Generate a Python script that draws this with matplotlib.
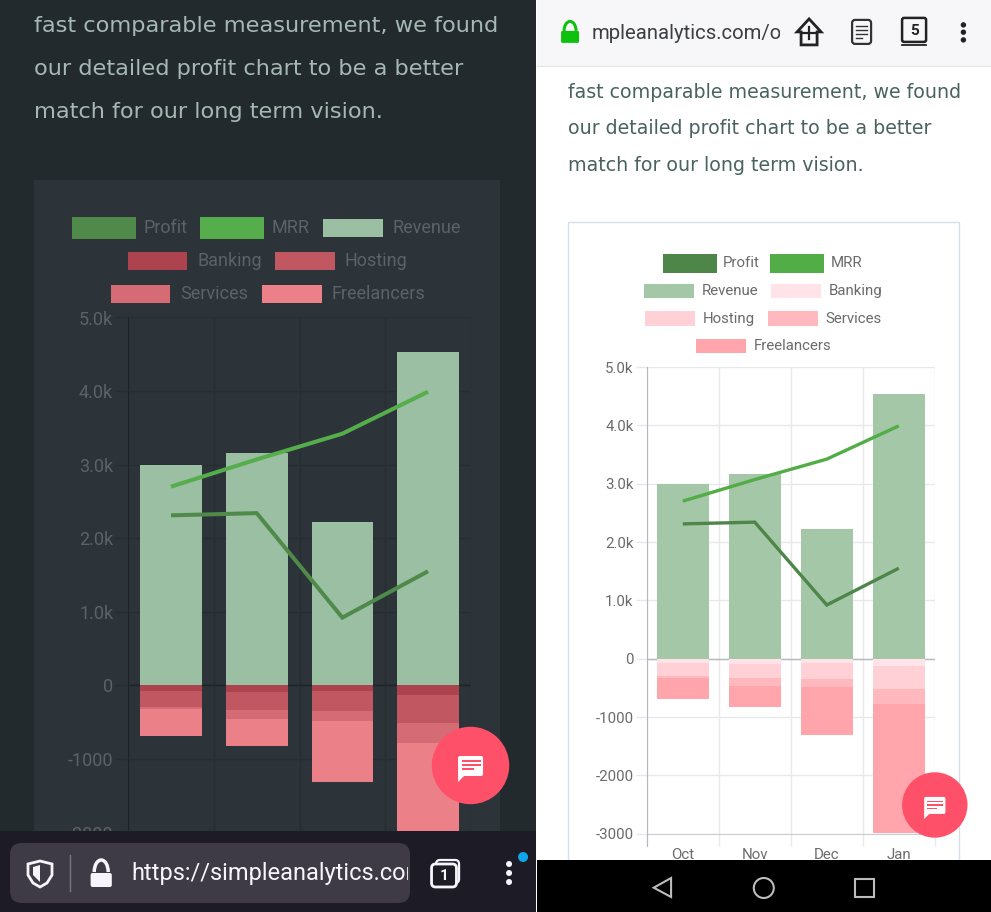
import numpy as np
import matplotlib
matplotlib.use('Agg')
import matplotlib.pyplot as plt
from matplotlib.patches import Rectangle, Circle, FancyBboxPatch, Polygon, Arc

months = ['Oct', 'Nov', 'Dec', 'Jan']
revenue = [3000, 3160, 2220, 4530]
mrr = [2700, 3070, 3420, 3990]
profit = [2310, 2340, 920, 1550]
banking = [80, 95, 77, 131]
hosting = [210, 235, 276, 381]
services = [35, 132, 127, 267]
freelancers = [365, 362, 829, 2201]

paragraph = ['fast comparable measurement, we found',
             'our detailed profit chart to be a better',
             'match for our long term vision.']
left_ticks = [5000, 4000, 3000, 2000, 1000, 0, -1000, -2000]
left_tick_labels = ['5.0k', '4.0k', '3.0k', '2.0k', '1.0k', '0', '-1000', '-2000']
right_ticks = [5000, 4000, 3000, 2000, 1000, 0, -1000, -2000, -3000]
right_tick_labels = ['5.0k', '4.0k', '3.0k', '2.0k', '1.0k', '0', '-1000', '-2000', '-3000']

dark_colors = {'Profit': '#4f8a4a', 'MRR': '#55ad4b', 'Revenue': '#9bbfa2', 'Banking': '#ad434e',
               'Hosting': '#c05761', 'Services': '#d56c75', 'Freelancers': '#ec8089'}
light_colors = {'Profit': '#4e8548', 'MRR': '#52ad46', 'Revenue': '#a3c7a7', 'Banking': '#ffe3e8',
                'Hosting': '#ffd0d6', 'Services': '#ffb9be', 'Freelancers': '#ffa5ab'}

plt.rcParams['font.family'] = ['Roboto', 'DejaVu Sans']

W, H = 991, 912
fig = plt.figure(figsize=((W + 0.1) / 100, (H + 0.1) / 100), dpi=100)


def pixel_axes(z):
    ax = fig.add_axes([0, 0, 1, 1], zorder=z)
    ax.set_xlim(0, W)
    ax.set_ylim(H, 0)
    ax.axis('off')
    ax.patch.set_alpha(0)
    return ax


bg = pixel_axes(0)
top = pixel_axes(5)


def box(ax, x0, y0, x1, y1, color, **kw):
    ax.add_patch(Rectangle((x0, y0), x1 - x0, y1 - y0, facecolor=color, edgecolor='none', **kw))


def rbox(ax, x0, y0, x1, y1, r, face, edge='none', lw=0, **kw):
    ax.add_patch(FancyBboxPatch((x0, y0), x1 - x0, y1 - y0, boxstyle=f'round,pad=0,rounding_size={r}',
                                facecolor=face, edgecolor=edge, linewidth=lw, **kw))


def draw_chart(x0, x1, y5k, y0val, y_bottom, ticks, tick_labels, colors, fs, tick_px, line_w, grid_c, axis_c, text_c, labels):
    per_k = (y0val - y5k) / 5
    ymin = -(y_bottom - y0val) / per_k * 1000
    ax = fig.add_axes([x0 / W, 1 - y_bottom / H, (x1 - x0) / W, (y_bottom - y5k) / H], zorder=2)
    ax.patch.set_alpha(0)
    ax.set_xlim(0, 4)
    ax.set_ylim(ymin, 5000)
    x = np.arange(4) + 0.5
    ax.bar(x, revenue, 0.72, color=colors['Revenue'], zorder=2)
    bottom = np.zeros(4)
    for name, vals in [('Banking', banking), ('Hosting', hosting), ('Services', services), ('Freelancers', freelancers)]:
        ax.bar(x, -np.array(vals), 0.72, bottom=bottom, color=colors[name], zorder=2)
        bottom -= np.array(vals)
    ax.plot(x, mrr, color=colors['MRR'], lw=line_w, zorder=3, solid_capstyle='butt', solid_joinstyle='miter')
    ax.plot(x, profit, color=colors['Profit'], lw=line_w, zorder=3, solid_capstyle='butt', solid_joinstyle='miter')
    ax.set_yticks(ticks)
    ax.set_yticklabels(tick_labels, fontsize=fs, color=text_c)
    ax.set_xticks(np.arange(5))
    ax.set_xticklabels([])
    # the dark screenshot is cut off above the month labels
    if labels:
        ax.set_xticks(x, minor=True)
        ax.set_xticklabels(labels, minor=True, fontsize=fs, color=text_c)
    ax.tick_params(axis='y', length=tick_px * 0.72, width=1, color=grid_c, pad=1.5)
    ax.tick_params(axis='x', which='major', length=12 * 0.72, width=1, color=grid_c)
    ax.tick_params(axis='x', which='minor', length=0, pad=10)
    ax.grid(True, which='major', color=grid_c, lw=1, zorder=1)
    ax.set_axisbelow(True)
    ax.axhline(0, color=axis_c, lw=1, zorder=1)
    for s in ['top', 'right']:
        ax.spines[s].set_visible(False)
    ax.spines['bottom'].set_color(axis_c)
    ax.spines['bottom'].set_alpha(0.7)
    ax.spines['left'].set_color(axis_c)
    ax.spines['left'].set_bounds(ymin - 12 / per_k * 1000, 5000)
    ax.spines['left'].set_clip_on(False)
    return ax


def legend(rows, colors, text_c, fs):
    # name, swatch left, swatch right, label x, top, bottom
    for name, sx0, sx1, tx, sy0, sy1 in rows:
        box(bg, sx0, sy0, sx1, sy1, colors[name])
        bg.text(tx, (sy0 + sy1) / 2, name, fontsize=fs, color=text_c, va='center', ha='left')


def chat_button(cx, cy, r, k):
    top.add_patch(Circle((cx, cy), r, facecolor='#ff5069', edgecolor='none'))
    ix, iy = cx - 12.5 * k, cy - 9.5 * k
    rbox(top, ix, iy, ix + 25 * k, iy + 20 * k, 2 * k, 'white')
    top.add_patch(Polygon([(ix, iy + 18 * k), (ix, iy + 26 * k), (ix + 7 * k, iy + 19 * k)], facecolor='white', edgecolor='none'))
    for off, ln in [(4.5, 19), (8.5, 19), (12.5, 12)]:
        box(top, ix + 3.5 * k, iy + off * k, ix + (3.5 + ln) * k, iy + (off + 2) * k, '#ff5069')


# left (dark) page
box(bg, 0, 0, 536, H, '#222a2d')
box(bg, 34, 180, 500, 835, '#2c343a')
for text, y in zip(paragraph, [25.5, 68.5, 111.5]):
    bg.text(34, y, text, family='DejaVu Sans', fontsize=16.2, color='#a6b8b3', va='center', ha='left')
legend([('Profit', 72, 136, 143, 217, 239), ('MRR', 200, 264, 271, 217, 239), ('Revenue', 323, 383, 392.5, 219, 237),
        ('Banking', 127.5, 187, 197, 252, 270), ('Hosting', 275, 335, 344, 252, 270),
        ('Services', 111, 170, 180, 285, 303), ('Freelancers', 262, 322, 331, 285, 303)],
       dark_colors, '#5c6265', 13)
draw_chart(128.2, 470.8, 317.5, 685.3, 848, left_ticks, left_tick_labels, dark_colors, 13, 13, 2.9,
           '#262e32', '#1c2427', '#5c6265', None)
chat_button(470.5, 765.5, 38.7, 1)

# left browser bar
box(top, 0, 831, 536, H, '#1d1b26')
rbox(top, 10, 843, 410, 903, 12, '#3e3b46')
top.add_patch(Polygon([(28, 864), (40, 861), (52, 864), (52, 875), (47, 883), (40, 887), (33, 883), (28, 875)],
                      closed=True, facecolor='none', edgecolor='#f7f5fb', lw=2))
top.add_patch(Polygon([(40, 865), (33, 867), (33, 875), (40, 882)], facecolor='#f7f5fb', edgecolor='none'))
top.plot([70.4, 70.4], [855, 891], color='#77747d', lw=1)
rbox(top, 90.6, 873, 111.8, 887, 2, '#f7f5fb')
top.add_patch(Arc((101.2, 872), 14, 24, theta1=180, theta2=360, edgecolor='#f7f5fb', lw=2.5))
url_l = top.text(131.6, 873, 'https://simpleanalytics.com', fontsize=17, color='#f7f5fb', va='center', ha='left', clip_on=True)
url_l.set_clip_path(Rectangle((0, 0), 408, H, transform=top.transData))
rbox(top, 436, 860, 459, 883, 4, 'none', '#f7f5fb', 1.6)
rbox(top, 431.5, 864, 456.4, 887, 4, '#1d1b26', '#f7f5fb', 2)
top.text(444, 875.5, '1', fontsize=11, fontweight='bold', color='#f7f5fb', va='center', ha='center')
for y in [864, 873, 882]:
    top.add_patch(Circle((509, y), 3, facecolor='#f7f5fb', edgecolor='none'))
top.add_patch(Circle((523, 857), 5, facecolor='#0ea5e9', edgecolor='none'))

# right (light) page
box(bg, 537, 0, W, H, 'white')
for text, y in zip(paragraph, [92.5, 128.5, 165.5]):
    bg.text(568, y, text, family='DejaVu Sans', fontsize=13.7, color='#4a6360', va='center', ha='left')
bg.add_patch(Rectangle((568, 222.5), 391, 660, facecolor='white', edgecolor='#d3dfe9', lw=1))
legend([('Profit', 663, 717, 723, 254, 272.7), ('MRR', 770, 824, 830.3, 254, 272.7),
        ('Revenue', 643.7, 694, 702, 284, 298), ('Banking', 771, 821, 829, 284, 298),
        ('Hosting', 644.7, 695, 702.7, 311, 326), ('Services', 767.7, 818, 825.7, 311, 326),
        ('Freelancers', 695.7, 745.7, 753.7, 339, 353)],
       light_colors, '#6b6b6b', 10.8)
draw_chart(646.7, 934.7, 367, 658.7, 834, right_ticks, right_tick_labels, light_colors, 10.8, 11, 2.4,
           '#e6e8ec', '#b5b8bd', '#6b6b6b', months)
chat_button(934.7, 805, 32.7, 0.85)

# right browser bars
box(top, 537, 0, W, 66, '#f7f7f9')
box(top, 537, 66, W, 67, '#e3e3e5')
rbox(top, 561, 31, 579, 43, 1.5, '#0fc10f')
top.add_patch(Arc((570, 31), 12, 19, theta1=180, theta2=360, edgecolor='#0fc10f', lw=2.2))
url_r = top.text(592, 33, 'mpleanalytics.com/o', fontsize=14.6, color='#3c3f43', va='center', ha='left', clip_on=True)
url_r.set_clip_path(Rectangle((592, 0), 188, 66, transform=top.transData))
box(top, 590, 15, 602, 50, '#f7f7f9', alpha=0.55)
box(top, 762, 15, 782, 50, '#f7f7f9', alpha=0.6)
top.add_patch(Polygon([(797, 32), (809, 19), (821, 32), (817, 32), (817, 45), (801, 45), (801, 32)],
                      closed=True, facecolor='none', edgecolor='#222222', lw=2))
top.plot([803, 815], [33, 33], color='#222222', lw=1.6)
top.plot([809, 809], [27, 39], color='#222222', lw=1.6)
rbox(top, 852, 20, 871, 44, 3, 'none', '#333333', 1.6)
for y, x1 in [(26, 867), (30, 867), (34, 867), (38, 862)]:
    top.plot([856, x1], [y, y], color='#333333', lw=1)
rbox(top, 902, 18, 926, 42, 2, 'none', '#222222', 1.8)
top.text(914, 30.5, '5', fontsize=11, fontweight='bold', color='#222222', va='center', ha='center')
top.plot([902, 926], [45.5, 45.5], color='#222222', lw=1.3)
for y in [25, 32.3, 40]:
    top.add_patch(Circle((963.3, y), 2.7, facecolor='#222222', edgecolor='none'))

box(top, 537, 860, W, H, 'black')
top.add_patch(Polygon([(653.7, 887.7), (671, 878), (671, 897)], closed=True, facecolor='none', edgecolor='#bdbdbd', lw=1.5))
top.add_patch(Circle((763.7, 888), 10, facecolor='none', edgecolor='#bdbdbd', lw=1.5))
top.add_patch(Rectangle((855.3, 879), 18.4, 18, facecolor='none', edgecolor='#bdbdbd', lw=1.5))

fig.savefig('out.png', dpi=100)
